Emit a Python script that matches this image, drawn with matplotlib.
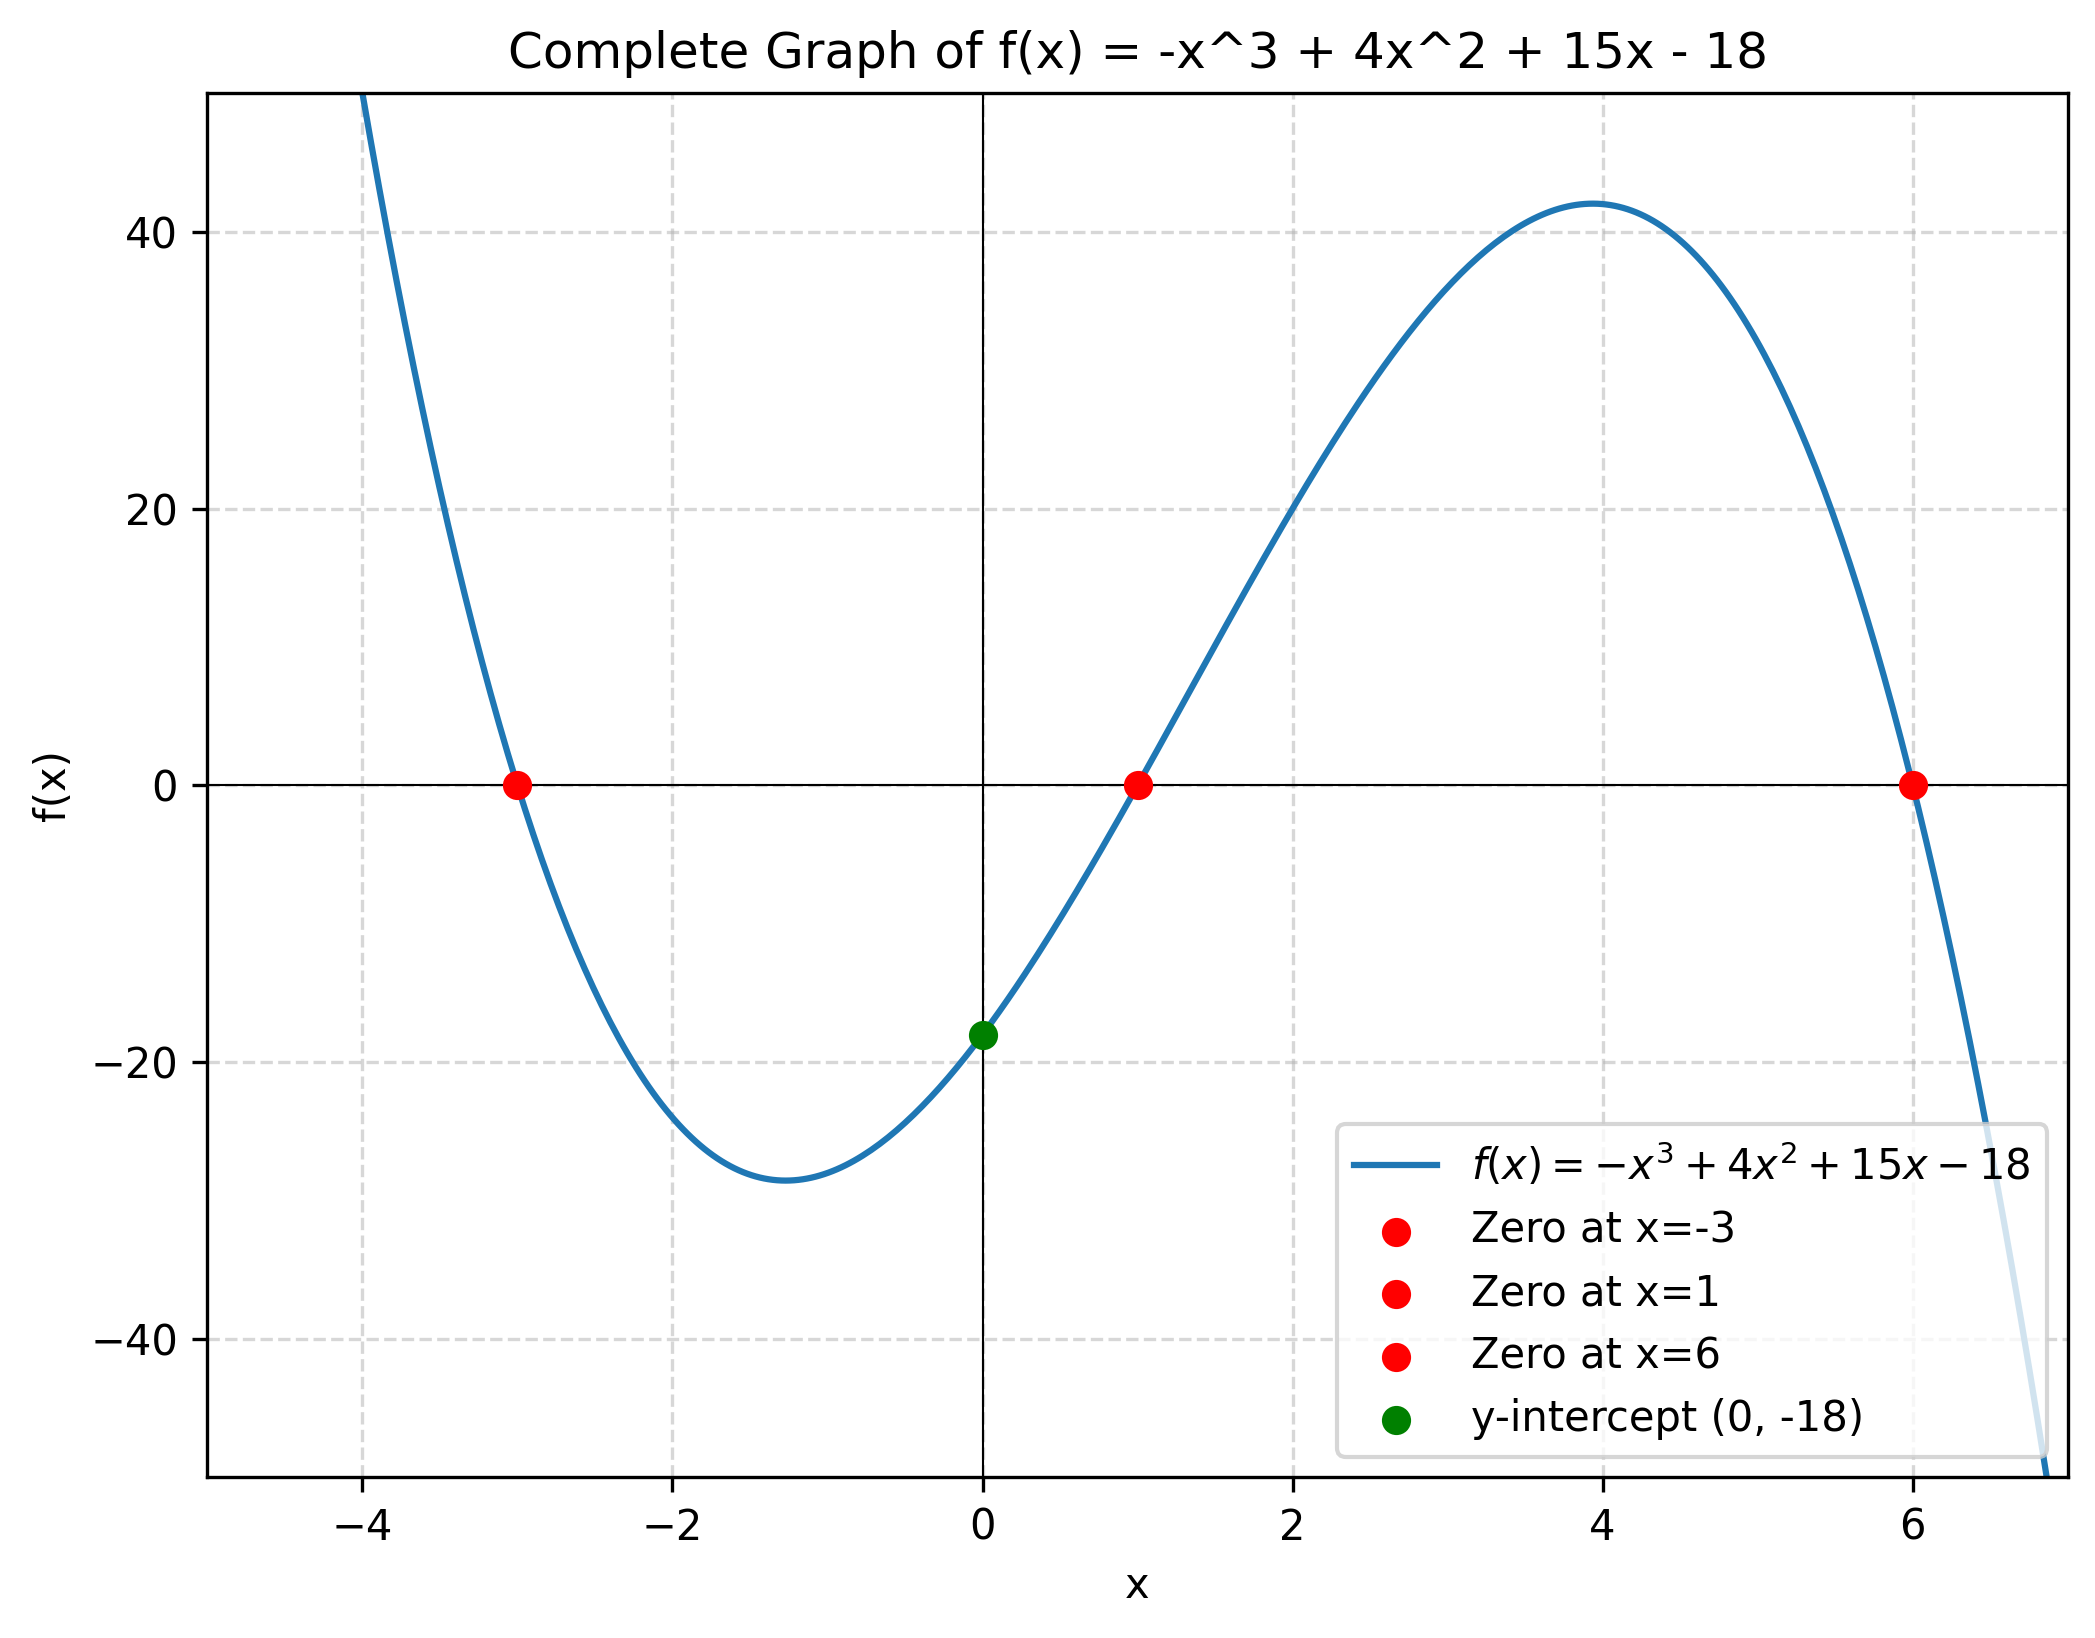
import numpy as np
import matplotlib
matplotlib.use("Agg")
import matplotlib.pyplot as plt

# ── data ──────────────────────────────────────────────────────────────────────
coeffs = [-1, 4, 15, -18]          # f(x) = -x^3 + 4x^2 + 15x - 18
x_range = [-4, 7]
zeros = [-3, 1, 6]
y_intercept = (0, -18)

x = np.linspace(x_range[0], x_range[1], 400)
y = np.polyval(coeffs, x)

# ── plot ──────────────────────────────────────────────────────────────────────
fig, ax = plt.subplots(figsize=(2095 / 300, 1638 / 300), dpi=300)
ax.plot(x, y, color="#1f77b4", label=r"$f(x) = -x^3 + 4x^2 + 15x - 18$")
for z in zeros:
    ax.scatter([z], [np.polyval(coeffs, z)], color="red", zorder=5, label=f"Zero at x={z}")
ax.scatter([y_intercept[0]], [y_intercept[1]], color="green", zorder=5,
           label=f"y-intercept ({y_intercept[0]}, {y_intercept[1]})")

ax.axhline(0, color="black", linewidth=0.5)
ax.axvline(0, color="black", linewidth=0.5)
ax.set_xlim(-5, 7)
ax.set_ylim(-50, 50)
ax.set_title("Complete Graph of f(x) = -x^3 + 4x^2 + 15x - 18")
ax.set_xlabel("x")
ax.set_ylabel("f(x)")
ax.grid(True, linestyle="--", alpha=0.5)
ax.legend(loc="lower right")
fig.subplots_adjust(left=0.099, right=0.987, top=0.943, bottom=0.098)
plt.savefig("out.png")
